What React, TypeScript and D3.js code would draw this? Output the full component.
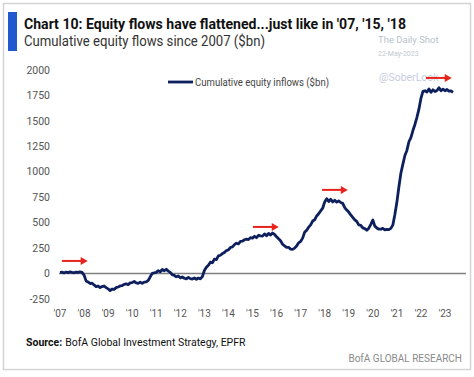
import React from "react";
import * as d3 from "d3";

const startYear = 2007;
const flows2007 = [10, 14, 6, 15, 9, 16, 11, 8, 15, 11, 17, 12];
const flows2008 = [-15, -72, -82, -98, -95, -112, -128, -122, -138, -128, -122, -138];
const flows2009 = [-150, -168, -152, -155, -138, -132, -122, -118, -106, -102, -108, -92];
const flows2010 = [-88, -78, -92, -96, -84, -97, -84, -82, -68, -32, 2, 6];
const flows2011 = [12, 28, 18, 40, 28, 42, 24, 12, -12, -18, -32, -24];
const flows2012 = [-42, -34, -46, -52, -38, -50, -54, -44, -56, -44, -52, -30];
const flows2013 = [30, 62, 82, 112, 106, 142, 138, 174, 180, 196, 206, 226];
const flows2014 = [232, 256, 262, 284, 298, 292, 316, 318, 332, 338, 334, 352];
const flows2015 = [348, 366, 352, 376, 370, 368, 390, 372, 394, 378, 398, 384];
const flows2016 = [362, 342, 322, 288, 272, 258, 258, 240, 238, 250, 270, 302];
const flows2017 = [316, 348, 406, 426, 456, 478, 516, 528, 566, 588, 616, 642];
const flows2018 = [704, 736, 708, 730, 704, 720, 702, 714, 698, 690, 648, 624];
const flows2019 = [604, 576, 552, 528, 512, 478, 474, 448, 442, 426, 446, 484];
const flows2020 = [526, 466, 448, 436, 436, 444, 430, 434, 432, 444, 478, 580];
const flows2021 = [700, 850, 985, 1075, 1160, 1210, 1295, 1335, 1405, 1465, 1535, 1615];
const flows2022 = [1722, 1790, 1796, 1784, 1814, 1780, 1806, 1788, 1798, 1826, 1796, 1812];
const flows2023 = [1796, 1808, 1792, 1794, 1780];

const yearlyFlows = [
  flows2007, flows2008, flows2009, flows2010, flows2011, flows2012, flows2013, flows2014,
  flows2015, flows2016, flows2017, flows2018, flows2019, flows2020, flows2021, flows2022, flows2023,
];

const yTicks = [-250, 0, 250, 500, 750, 1000, 1250, 1500, 1750, 2000];
const xTickYears = d3.range(2007, 2024);

// annotation arrows: start (year fraction) and level in $bn
const arrowStarts = [2007.08, 2015.02, 2017.89, 2022.21];
const arrowLevels = [124, 458, 822, 1922];
const arrowLengthYears = 1.07;

const title = "Chart 10: Equity flows have flattened...just like in '07, '15, '18";
const subtitle = "Cumulative equity flows since 2007 ($bn)";
const legendLabel = "Cumulative equity inflows ($bn)";

type Pt = { t: number; v: number };

export default function App() {
  const W = 474;
  const H = 377;
  const data: Pt[] = [];
  yearlyFlows.forEach((arr, yi) => {
    arr.forEach((v, m) => data.push({ t: startYear + yi + m / 12, v }));
  });

  const x = d3.scaleLinear().domain([2007, 2023]).range([60, 445]);
  const y = d3.scaleLinear().domain([-250, 2000]).range([299, 70]);
  const line = d3
    .line<Pt>()
    .x((d) => x(d.t))
    .y((d) => y(d.v));

  const font = "Roboto, 'Liberation Sans', sans-serif";
  const navy = "#0e1f5e";
  const red = "#e8231b";

  return (
    <svg width={W} height={H} style={{ position: "absolute", left: 0, top: 0, background: "#fff" }}>
      <rect x={3.5} y={3.5} width={467} height={366} fill="#fff" stroke="#d4d4d4" strokeWidth={1.5} />
      <rect x={8} y={12} width={9} height={39} fill="#1f58cf" />
      <text x={24} y={29} fontFamily={font} fontWeight={700} fontSize={15.5} fill="#111"
        textLength={382} lengthAdjust="spacingAndGlyphs">{title}</text>
      <text x={24} y={46} fontFamily={font} fontSize={14} fill="#333"
        textLength={241} lengthAdjust="spacingAndGlyphs">{subtitle}</text>

      <text x={378} y={43} fontFamily={font} fontSize={9.5} fill="#b9c1cd">The Daily Shot</text>
      <text x={378} y={55.5} fontFamily={font} fontSize={7} fill="#c3c8d0">22-May-2023</text>
      <text x={379} y={81} fontFamily={font} fontSize={10.5} fill="#c7cde0">@SoberLook</text>

      {yTicks.map((t) => (
        <text key={t} x={50} y={y(t)} dy="0.35em" textAnchor="end" fontFamily={font}
          fontSize={10.5} fill="#555">{t}</text>
      ))}
      {xTickYears.map((yr) => (
        <text key={yr} x={x(yr)} y={317} textAnchor="middle" fontFamily={font}
          fontSize={10} fill="#555">{"'" + String(yr).slice(2)}</text>
      ))}

      <line x1={59} x2={466} y1={y(0)} y2={y(0)} stroke="#808080" strokeWidth={1.5} />

      <path d={line(data) ?? ""} fill="none" stroke={navy} strokeWidth={2.8} strokeLinejoin="round" />

      {arrowStarts.map((s, i) => {
        const x1 = x(s);
        const x2 = x(s + arrowLengthYears);
        const yy = y(arrowLevels[i]);
        return (
          <g key={i}>
            <line x1={x1} x2={x2 - 6} y1={yy} y2={yy} stroke={red} strokeWidth={2} />
            <path d={`M${x2 - 7},${yy - 4}L${x2},${yy}L${x2 - 7},${yy + 4}Z`} fill={red} />
          </g>
        );
      })}

      <line x1={168} x2={193} y1={82} y2={82} stroke={navy} strokeWidth={2.8} />
      <text x={195} y={85.5} fontFamily={font} fontSize={10} fill="#444"
        textLength={134} lengthAdjust="spacingAndGlyphs">{legendLabel}</text>

      <text x={26} y={346} fontFamily={font} fontSize={10.5} fill="#111">
        <tspan fontWeight={700}>Source:</tspan>
        <tspan dx={3}>BofA Global Investment Strategy, EPFR</tspan>
      </text>
      <text x={462} y={362} textAnchor="end" fontFamily={font} fontSize={10} fill="#8a8a8a">BofA GLOBAL RESEARCH</text>
    </svg>
  );
}
